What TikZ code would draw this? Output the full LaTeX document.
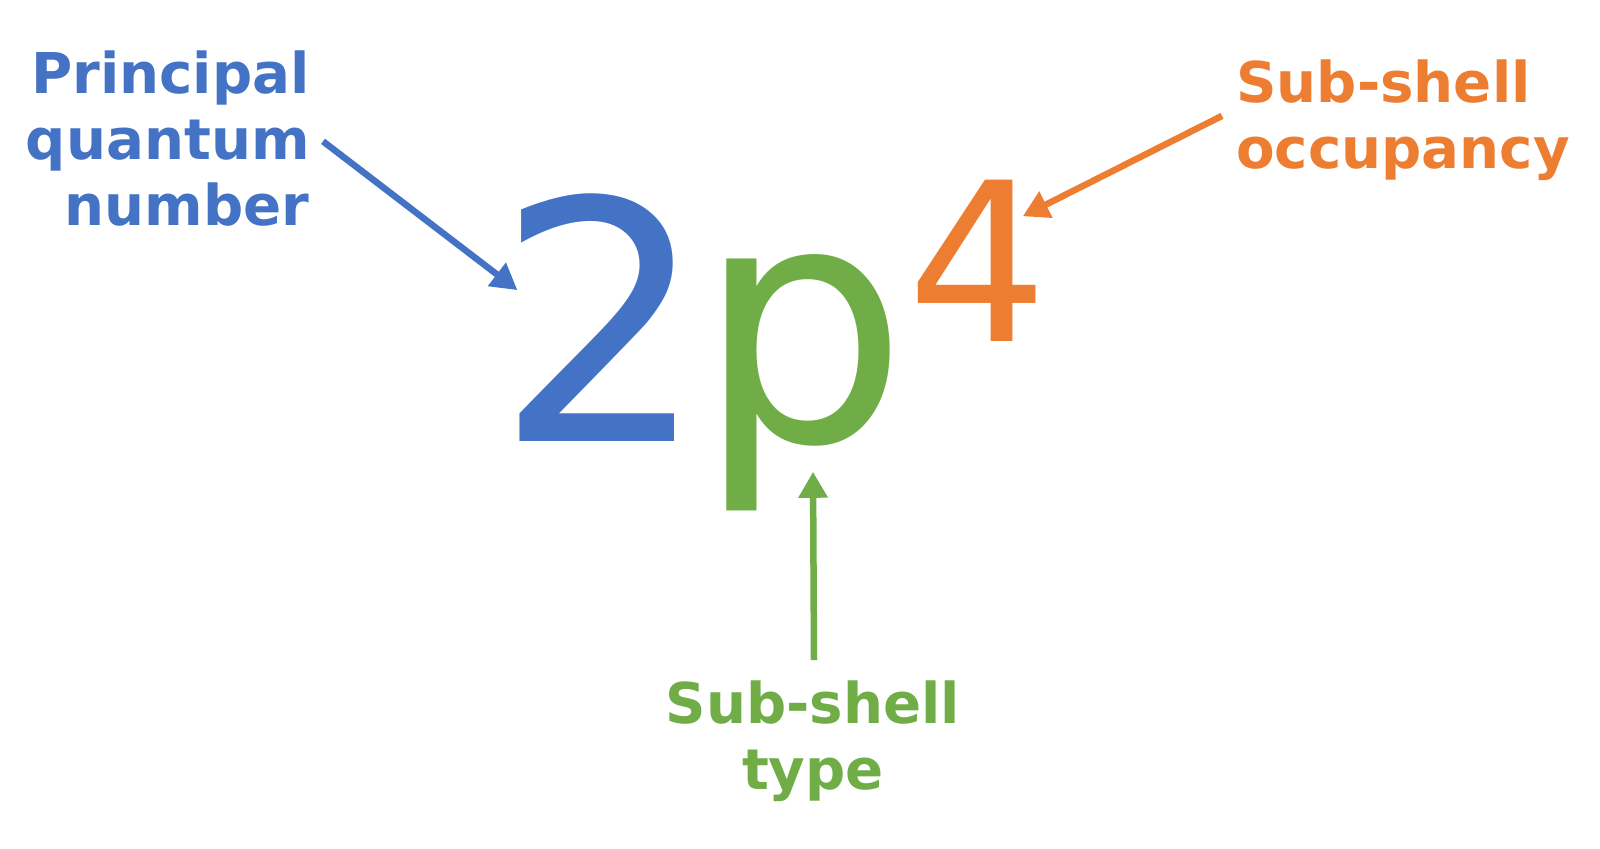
\documentclass[tikz,border=0pt]{standalone}
\usepackage{fontspec}
\setmainfont{DejaVu Sans}
\usetikzlibrary{arrows.meta}
\definecolor{pqnblue}{HTML}{4472C4}
\definecolor{occorange}{HTML}{ED7D31}
\definecolor{typegreen}{HTML}{70AD47}
\begin{document}
\begin{tikzpicture}[x=0.02cm,y=-0.02cm,
    labeltext/.style={font=\bfseries\fontsize{32}{37.4}\selectfont,inner sep=0},
    bigsym/.style={font=\fontsize{190}{190}\selectfont,inner sep=0},
    pointer/.style={line width=0.13cm,-{Triangle[length=0.52cm,width=0.56cm]}}]
  \useasboundingbox (0,0) rectangle (1600,849);
  % the term
  \node[bigsym,text=pqnblue,anchor=base] (two) at (602,441) {2};
  \node[bigsym,text=typegreen,anchor=base] (p) at (802,441) {p};
  \node[bigsym,text=occorange,anchor=base,font=\fontsize{126}{126}\selectfont] (four) at (978,341) {4};
  % labels (base = last line)
  \node[labeltext,text=pqnblue,align=right,anchor=base east] (pqn) at (310,225) {Principal\\quantum\\number};
  \node[labeltext,text=occorange,align=left,anchor=base west] (occ) at (1236,168) {Sub-shell\\occupancy};
  \node[labeltext,text=typegreen,align=center,anchor=base] (sst) at (813,789) {Sub-shell\\type};
  % pointers
  \draw[pointer,pqnblue] ([shift={(13,3)}]pqn.east) -- ([shift={(22,-27)}]two.west);
  \draw[pointer,occorange] ([shift={(-14,-4)}]occ.west) -- ([shift={(-26,37)}]four.north east);
  \draw[pointer,typegreen] ([shift={(1,-20)}]sst.north) -- ([shift={(11,-39)}]p.south);
\end{tikzpicture}
\end{document}
